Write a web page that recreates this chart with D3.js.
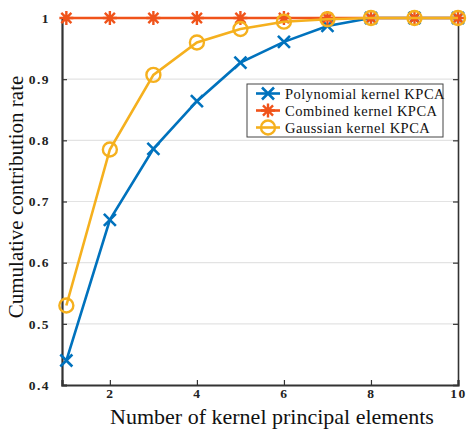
<!DOCTYPE html>
<html>
<head>
<meta charset="utf-8">
<script src="https://cdn.jsdelivr.net/npm/d3@7"></script>
<style>
  body { margin: 0; background: #fff; }
  svg { display: block; }
</style>
</head>
<body>
<svg id="chart" width="474" height="430"></svg>
<script>
// DATA
const components = [1, 2, 3, 4, 5, 6, 7, 8, 9, 10];
const polynomial = [0.44, 0.67, 0.786, 0.864, 0.927, 0.961, 0.987, 1, 1, 1];
const combined = [1, 1, 1, 1, 1, 1, 1, 1, 1, 1];
const gaussian = [0.53, 0.785, 0.907, 0.96, 0.982, 0.994, 0.998, 1, 1, 1];
const xTicks = [2, 4, 6, 8, 10];
const yTicks = [0.4, 0.5, 0.6, 0.7, 0.8, 0.9, 1];
const seriesNames = ["Polynomial kernel KPCA", "Combined kernel KPCA", "Gaussian kernel KPCA"];

const svg = d3.select("#chart");
const margin = { top: 18, right: 16, bottom: 45, left: 62 };
const width = 474 - margin.left - margin.right,
  height = 430 - margin.top - margin.bottom;

const x = d3.scaleLinear().domain([0.9, 10]).range([0, width]);
const y = d3.scaleLinear().domain([0.4, 1]).range([height, 0]);

const g = svg.append("g").attr("transform", `translate(${margin.left},${margin.top})`);

// grid
g.selectAll(".grid")
  .data(yTicks.filter((d) => d > 0.4 && d < 1))
  .join("line")
  .attr("x1", 0)
  .attr("x2", width)
  .attr("y1", (d) => y(d))
  .attr("y2", (d) => y(d))
  .attr("stroke", "#e3e3e3")
  .attr("stroke-width", 1.2);

// axes
const serif = "'Liberation Serif', 'DejaVu Serif', serif";
const yAxis = g.append("g")
  .call(d3.axisLeft(y).tickValues(yTicks).tickSize(-5).tickPadding(12)
    .tickFormat((d) => (d === 1 ? "1" : d3.format(".1f")(d))));
const yAxisR = g.append("g").attr("transform", `translate(${width},0)`)
  .call(d3.axisRight(y).tickValues(yTicks).tickSize(-5).tickFormat(""));
const xAxis = g.append("g").attr("transform", `translate(0,${height})`)
  .call(d3.axisBottom(x).tickValues(xTicks).tickSize(-5).tickPadding(3));

[yAxis, yAxisR, xAxis].forEach((a) => {
  a.attr("font-family", serif);
  a.select(".domain").attr("stroke", "#333").attr("stroke-width", 1.6);
  a.selectAll(".tick line").attr("stroke", "#333").attr("stroke-width", 1.2);
  a.selectAll("text")
    .attr("fill", "#222")
    .style("font-family", serif)
    .style("font-size", "13.5px")
    .style("font-weight", "bold")
    .style("letter-spacing", "1.5px");
});
yAxis.select(".domain").attr("stroke-width", 2.2);
xAxis.select(".domain").attr("stroke-width", 2.2);

// series
const series = [
  { name: seriesNames[0], values: polynomial, color: "#0072BD", marker: "x" },
  { name: seriesNames[1], values: combined, color: "#F0531A", marker: "star" },
  { name: seriesNames[2], values: gaussian, color: "#F5B01E", marker: "circle" },
];

function drawMarker(sel, type, color, cx, cy) {
  const m = sel.append("g").attr("transform", `translate(${cx},${cy})`)
    .attr("stroke", color).attr("fill", "none");
  if (type === "x") {
    const r = 6;
    m.append("path").attr("d", `M${-r},${-r}L${r},${r}M${-r},${r}L${r},${-r}`).attr("stroke-width", 2.6);
  } else if (type === "star") {
    const r = 7, s = r * 0.72;
    m.append("path")
      .attr("d", `M0,${-r}L0,${r}M${-r},0L${r},0M${-s},${-s}L${s},${s}M${-s},${s}L${s},${-s}`)
      .attr("stroke-width", 2.4);
  } else {
    m.append("circle").attr("r", 7).attr("stroke-width", 2.4);
  }
}

const line = d3.line().x((d, i) => x(components[i])).y((d) => y(d));

series.forEach((s) => {
  const sg = g.append("g");
  sg.append("path")
    .datum(s.values)
    .attr("d", line)
    .attr("fill", "none")
    .attr("stroke", s.color)
    .attr("stroke-width", 2.6);
  s.values.forEach((v, i) => drawMarker(sg, s.marker, s.color, x(components[i]), y(v)));
});

// legend
const legend = g.append("g").attr("transform", `translate(${247 - margin.left},${84 - margin.top})`);
legend.append("rect")
  .attr("width", 196)
  .attr("height", 53)
  .attr("fill", "#fff")
  .attr("stroke", "#444")
  .attr("stroke-width", 1);
series.forEach((s, i) => {
  const ly = 9.5 + i * 17;
  legend.append("line")
    .attr("x1", 9).attr("x2", 33)
    .attr("y1", ly).attr("y2", ly)
    .attr("stroke", s.color).attr("stroke-width", 2.6);
  drawMarker(legend, s.marker, s.color, 21, ly);
  legend.append("text")
    .attr("x", 38)
    .attr("y", ly + 5)
    .text(s.name)
    .style("font-family", serif)
    .style("font-size", "14.5px")
    .style("letter-spacing", "0.5px")
    .attr("fill", "#111");
});

// labels
svg.append("text")
  .attr("transform", `translate(23,197) rotate(-90)`)
  .attr("text-anchor", "middle")
  .style("font-family", serif)
  .style("font-size", "21px")
  .attr("fill", "#111")
  .text("Cumulative contribution rate");
svg.append("text")
  .attr("x", 272)
  .attr("y", 424)
  .attr("text-anchor", "middle")
  .style("font-family", serif)
  .style("font-size", "22px")
  .attr("fill", "#111")
  .text("Number of kernel principal elements");
</script>
</body>
</html>
